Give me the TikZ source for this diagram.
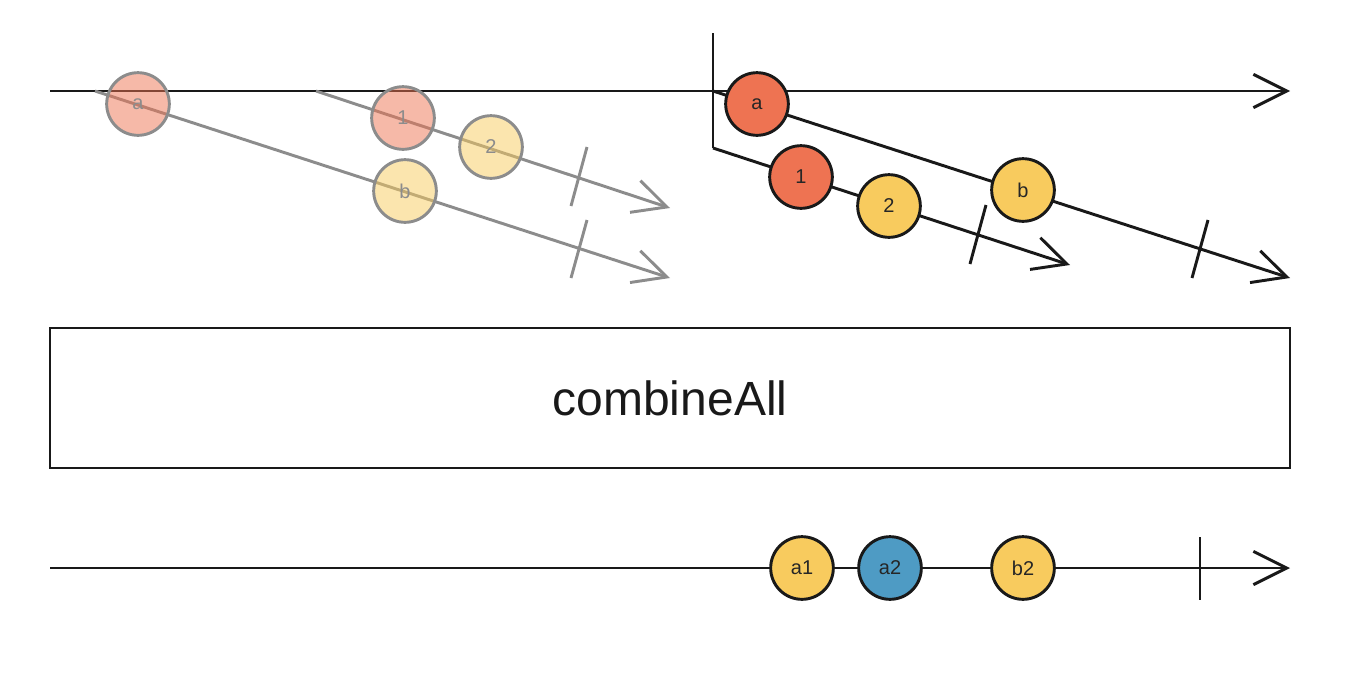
\documentclass[tikz,border=0pt]{standalone}
\usepackage{fontspec}
\setmainfont{Liberation Sans}
\usetikzlibrary{arrows.meta}
\definecolor{cred}{HTML}{EE7352}
\definecolor{cyel}{HTML}{F8CB5E}
\definecolor{cblue}{HTML}{4E9BC4}
\definecolor{gline}{HTML}{8C8C8C}
\begin{document}
\begin{tikzpicture}[x=0.75pt,y=-0.75pt,
  ln/.style={line width=2.2pt,draw=black!90},
  gl/.style={line width=2.2pt,draw=gline},
  arr/.style={-{Straight Barb[length=25pt,width=25pt,line width=2.2pt]}},
  m/.style={circle,draw=black!90,line width=2.2pt,minimum size=47pt,inner sep=0pt,font=\fontsize{15}{15}\selectfont,text=black!85},
  gm/.style={m,draw=gline,text=gline,fill opacity=0.5,text opacity=1},
]
\useasboundingbox (0,0) rectangle (1364,682);
% top line
\coordinate (t0) at (50,91); \coordinate (t1) at (1290,91);
\draw[ln,arr] (t0) -- (t1);
% ghost streams
\coordinate (g0) at (95,91); \coordinate (g1) at (670,278);
\coordinate (h0) at (316,91); \coordinate (h1) at (670,208);
\draw[gl,arr] (g0) -- (g1);
\draw[gl,arr] (h0) -- (h1);
\coordinate (gt1) at (571,278); \coordinate (gt2) at (587,220);
\coordinate (ht1) at (571,206); \coordinate (ht2) at (587,147);
\draw[gl] (gt1) -- (gt2); \draw[gl] (ht1) -- (ht2);
\node[gm,fill=cred] (ga) at (138,104) {a};
\node[gm,fill=cyel] (gb) at (405,191) {b};
\node[gm,fill=cred] (g1n) at (403,118) {1};
\node[gm,fill=cyel] (g2n) at (491,147) {2};
% right streams
\coordinate (v0) at (713,33); \coordinate (v1) at (713,148);
\draw[ln] (v0) -- (v1);
\coordinate (r0) at (713,91); \coordinate (r1) at (1290,278);
\coordinate (s1) at (1070,265);
\draw[ln,arr] (r0) -- (r1);
\draw[ln,arr] (v1) -- (s1);
\coordinate (rt1) at (1192,278); \coordinate (rt2) at (1208,220);
\coordinate (st1) at (970,264); \coordinate (st2) at (986,205);
\draw[ln] (rt1) -- (rt2); \draw[ln] (st1) -- (st2);
\node[m,fill=cred] (ra) at (757,104) {a};
\node[m,fill=cyel] (rb) at (1023,190) {b};
\node[m,fill=cred] (r1n) at (801,177) {1};
\node[m,fill=cyel] (r2n) at (889,206) {2};
% operator box
\node[draw=black!90,line width=2.2pt,minimum width=930pt,minimum height=105pt,inner sep=0pt,font=\fontsize{36}{36}\selectfont,text=black!90] (op) at (670,398) {combineAll};
% output
\coordinate (o0) at (50,568); \coordinate (o1) at (1290,568);
\draw[ln,arr] (o0) -- (o1);
\coordinate (ot1) at (1200,537); \coordinate (ot2) at (1200,600);
\draw[ln] (ot1) -- (ot2);
\node[m,fill=cyel] (oa1) at (802,568) {a1};
\node[m,fill=cblue] (oa2) at (890,568) {a2};
\node[m,fill=cyel] (ob2) at (1023,568) {b2};
\end{tikzpicture}
\end{document}
